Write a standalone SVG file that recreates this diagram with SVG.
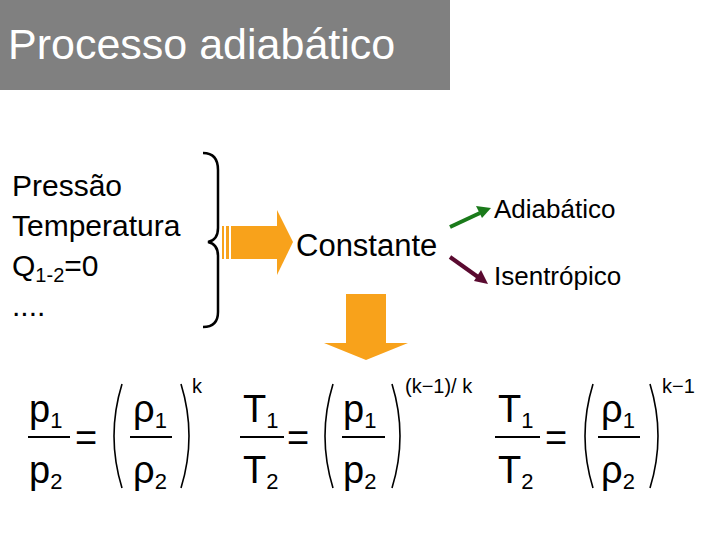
<svg xmlns="http://www.w3.org/2000/svg" width="720" height="540" viewBox="0 0 720 540">
<style>
text{font-family:"Liberation Sans",Arial,sans-serif;fill:#000}
.l{font-size:30px}
.m{font-size:38px}
.s{font-size:22px}
.e{font-size:20px}
.fl{stroke:#000;stroke-width:2}
.par{fill:none;stroke:#000;stroke-width:1.6}
.or{fill:#F8A21B}
</style>
<rect width="720" height="540" fill="#fff"/>
<g id="title"><rect x="0" y="0" width="450" height="90" fill="#808080"/><text x="8" y="59" style="font-size:43px;fill:#fff">Processo adiabático</text></g>
<g id="list">
<text class="l" x="12" y="196">Pressão</text>
<text class="l" x="12" y="236">Temperatura</text>
<text class="l" x="12" y="276">Q<tspan class="e" dy="6">1-2</tspan><tspan dy="-6">=0</tspan></text>
<text class="l" x="12" y="316">....</text>
<path d="M203,153 Q218,153 218,170 L218,228 Q218,240 208,242 Q218,244 218,256 L218,312 Q218,327 203,327" fill="none" stroke="#000" stroke-width="2.5"/>
</g>
<g id="connectors">
<g class="or"><rect x="222" y="226" width="2" height="33"/><rect x="226" y="226" width="3" height="33"/><rect x="231" y="226" width="46" height="33"/><polygon points="277,210 293,242 277,275"/></g>
<polygon class="or" points="346,294 386,294 386,343 408,343 366,360 324,343 346,343"/>
<line x1="450" y1="227" x2="480" y2="213" stroke="#1a7a1a" stroke-width="4"/><polygon points="491,208 476,206 482,218" fill="#1a7a1a"/>
<line x1="450" y1="257" x2="478" y2="277" stroke="#5a0a30" stroke-width="4"/><polygon points="488,284 474,281 481,270" fill="#5a0a30"/>
</g>
<g id="constante"><text x="296" y="256" style="font-size:31px">Constante</text></g>
<g id="adiabatico"><text x="494" y="218" style="font-size:26px">Adiabático</text></g>
<g id="isentropico"><text x="494" y="285" style="font-size:26px">Isentrópico</text></g>
<g id="formulas">
<text class="m" x="29" y="422">p<tspan class="s" dy="6">1</tspan></text><line class="fl" x1="28" y1="437" x2="70" y2="437"/><text class="m" x="29" y="483">p<tspan class="s" dy="6">2</tspan></text>
<text class="m" x="75" y="451">=</text>
<path class="par" d="M122,384 Q106,436 122,488"/><text class="m" x="133" y="422">ρ<tspan class="s" dy="6">1</tspan></text><line class="fl" x1="130" y1="437" x2="172" y2="437"/><text class="m" x="133" y="483">ρ<tspan class="s" dy="6">2</tspan></text><path class="par" d="M181,384 Q197,436 181,488"/>
<text class="e" x="192" y="393">k</text>
<text class="m" x="243" y="422">T<tspan class="s" dy="6">1</tspan></text><line class="fl" x1="240" y1="437" x2="284" y2="437"/><text class="m" x="243" y="483">T<tspan class="s" dy="6">2</tspan></text>
<text class="m" x="287" y="451">=</text>
<path class="par" d="M333,384 Q317,436 333,488"/><text class="m" x="343" y="422">p<tspan class="s" dy="6">1</tspan></text><line class="fl" x1="342" y1="437" x2="385" y2="437"/><text class="m" x="343" y="483">p<tspan class="s" dy="6">2</tspan></text><path class="par" d="M392,384 Q408,436 392,488"/>
<text class="e" x="405" y="393">(k−1)/ k</text>
<text class="m" x="498" y="422">T<tspan class="s" dy="6">1</tspan></text><line class="fl" x1="495" y1="437" x2="540" y2="437"/><text class="m" x="498" y="483">T<tspan class="s" dy="6">2</tspan></text>
<text class="m" x="545" y="451">=</text>
<path class="par" d="M593,384 Q577,436 593,488"/><text class="m" x="601" y="422">ρ<tspan class="s" dy="6">1</tspan></text><line class="fl" x1="598" y1="437" x2="640" y2="437"/><text class="m" x="601" y="483">ρ<tspan class="s" dy="6">2</tspan></text><path class="par" d="M650,384 Q666,436 650,488"/>
<text class="e" x="662" y="393">k−1</text>
</g>
</svg>
